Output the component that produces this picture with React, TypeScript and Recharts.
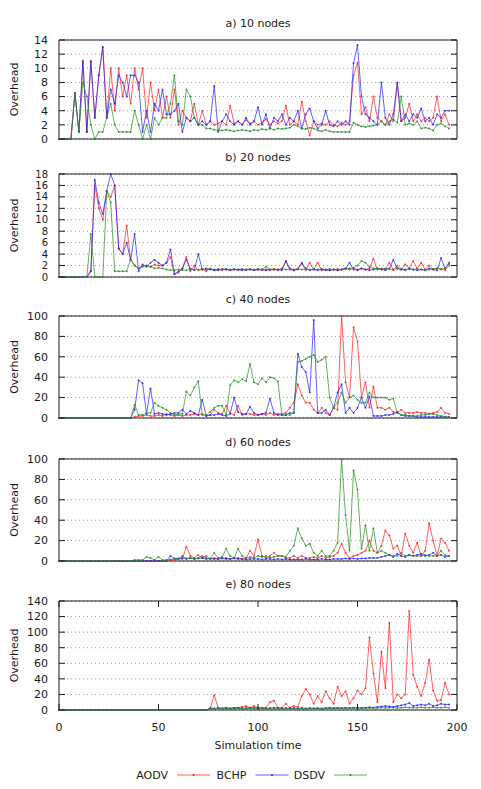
import React from 'react';
import { LineChart, Line, XAxis, YAxis, CartesianGrid, ReferenceArea } from 'recharts';

// Simulation time samples (every 2 s)
const TIME: number[] = Array.from({ length: 99 }, (_, i) => i * 2);
const X_TICKS = [0, 50, 100, 150, 200];

const TICKS_A = [0, 2, 4, 6, 8, 10, 12, 14];
const TICKS_B = [0, 2, 4, 6, 8, 10, 12, 14, 16, 18];
const TICKS_CD = [0, 20, 40, 60, 80, 100];
const TICKS_E = [0, 20, 40, 60, 80, 100, 120, 140];

// a) 10 nodes
const A_AODV = [
  0, 0, 0, 0, 6.5, 1, 11, 1, 11, 3,
  9, 13, 3, 10, 4, 10, 6, 9, 5, 10,
  7, 10, 3, 8, 4, 7, 3, 6, 3, 7,
  2, 4, 3, 2.5, 5, 2, 4, 2, 2.5, 2,
  2.2, 2.5, 2, 4.7, 2.2, 2.5, 2, 2.7, 2.2, 2.5,
  2, 2.3, 2.8, 2, 2.5, 2.2, 2.5, 4.7, 2, 2.5,
  2, 5.3, 2.5, 0.5, 2.5, 2, 2.2, 2, 2.5, 2,
  1.8, 2.3, 2, 2.5, 9, 10.8, 3.5, 4.5, 2.5, 6,
  3, 2.5, 2, 3.5, 2.5, 7.8, 2.5, 3, 5, 2.5,
  3.5, 2.5, 3, 2.5, 3, 6, 2.5, 3.5, 2,
];
const A_BCHP = [
  0, 0, 0, 0, 6.5, 1, 11, 1, 11, 3,
  9, 13, 3, 7, 5, 9, 8, 6, 9, 9,
  8, 1, 4, 1, 5, 4, 7, 3.5, 3.5, 4,
  5, 1, 3, 2.5, 3, 2, 2.5, 2, 2.5, 7.5,
  1, 2.5, 3.5, 2.5, 2, 2.5, 2, 3, 2, 2.5,
  4.5, 2, 3.5, 1.5, 3, 2.5, 3.5, 2, 3, 2.5,
  4, 1.5, 3.5, 4.3, 2.5, 1.5, 2, 4, 2, 1.8,
  2.5, 2, 2.5, 2, 10.7, 13.3, 6, 3.5, 3, 2.5,
  2, 8, 3, 2, 3.5, 8, 2.5, 3.5, 2.5, 3.5,
  3, 4.3, 2.5, 3, 2, 3.5, 3, 4, 4,
];
const A_DSDV = [
  0, 0, 0, 0, 6.5, 1, 8, 6, 2, 0,
  1, 1, 3, 5, 2, 1, 1, 1, 1, 4,
  2, 0, 2, 0, 3, 2, 3, 3, 5, 9,
  2.5, 2, 7, 6, 3, 2, 2, 1.5, 1.5, 1.3,
  1.2, 1.2, 1.3, 1.2, 1.1, 1.2, 1.3, 1.2, 1.1, 1.3,
  1.2, 1.4, 1.3, 1.5, 1.3, 1.5, 1.4, 1.5, 1.6, 2,
  1.8, 1.5, 1.4, 1.6, 1.5, 1.2, 1.1, 1.3, 1.1, 1,
  1, 1, 1, 1, 2.3, 2, 1.8, 1.7, 1.8, 1.9,
  2, 2.5, 2, 2.5, 2.8, 2.3, 6, 2, 2.2, 2,
  2.5, 1.5, 1.6, 1.5, 1.2, 2, 2.2, 1.8, 1.5,
];

// b) 20 nodes
const B_AODV = [
  0, 0, 0, 0, 0, 0, 0, 0, 1, 16,
  12, 10, 15, 14, 16, 5, 4, 9, 3, 2,
  1.5, 2, 2, 1.8, 2.2, 2, 2, 2.5, 3.5, 0.5,
  1, 1.5, 3.5, 1, 2, 1.2, 1.3, 1, 1.5, 1.2,
  1.3, 1.2, 1.3, 1.2, 1.3, 1.2, 1.3, 1.2, 1.3, 1.2,
  1.3, 1.2, 1.3, 1.2, 1.3, 1.2, 1.5, 2.7, 1.3, 1.2,
  1.5, 2.3, 1.2, 2.5, 1.3, 2.5, 1.2, 1.3, 1.2, 1.3,
  1.2, 1.3, 1.5, 1.3, 1.5, 1.3, 1.5, 1.3, 1.5, 3.2,
  1.3, 1.5, 1.3, 2.5, 1.2, 2, 1.3, 2.2, 1.5, 2.8,
  1.5, 2.5, 1.3, 2, 1.3, 1.5, 1.3, 1.2, 2,
];
const B_BCHP = [
  0, 0, 0, 0, 0, 0, 0, 0, 1, 17,
  13, 11, 15, 18, 16, 5, 4, 6, 3, 7.5,
  1, 2.2, 1.8, 2.5, 3, 2.5, 2, 2.5, 4.8, 0.5,
  0.8, 1.5, 3, 1.5, 1.2, 4, 1.3, 1.5, 1.3, 1.2,
  1.2, 1.4, 1.3, 1.2, 1.3, 1.3, 1.2, 1.3, 1.3, 1.2,
  1.3, 1.3, 1.2, 1.3, 1.3, 1.3, 1.2, 2.8, 1.5, 1.2,
  1.3, 2.5, 1.5, 1.2, 1.3, 1.2, 1.3, 1.2, 1.2, 1.3,
  1.2, 1.3, 1.5, 2.5, 1.3, 1.2, 1.5, 1.3, 1.2, 1.3,
  1.5, 1.3, 1.2, 1.5, 3, 1.5, 1.3, 1.2, 1.5, 1.3,
  1.2, 1.3, 1.2, 1.5, 1.3, 1.2, 3.3, 1.5, 2.5,
];
const B_DSDV = [
  0, 0, 0, 0, 0, 0, 0, 0, 7.5, 0,
  0, 0, 15, 13, 1, 1, 1, 1, 3, 2,
  1.5, 1.8, 2, 1.8, 1.5, 1.6, 1.5, 1.3, 1.2, 1.2,
  1.3, 1.2, 1.2, 1.3, 1.3, 1.3, 1.4, 1.3, 1.4, 1.3,
  1.4, 1.3, 1.4, 1.3, 1.4, 1.3, 1.4, 1.3, 1.4, 1.3,
  1.4, 1.3, 1.8, 1.3, 1.4, 1.3, 1.4, 1.3, 1.4, 1.3,
  1.4, 1.3, 1.4, 1.3, 1.4, 1.3, 1.4, 1.3, 1.4, 1.3,
  1.4, 1.3, 1.4, 1.5, 1.6, 2, 2.8, 2.5, 1.8, 1.5,
  1.5, 1.4, 1.5, 1.4, 1.3, 1.5, 1.4, 1.3, 1.4, 1.3,
  1.4, 1.3, 1.2, 1.3, 1.4, 1.5, 1.4, 1.5, 2.3,
];

// c) 40 nodes
const C_AODV = [
  0, 0, 0, 0, 0, 0, 0, 0, 0, 0,
  0, 0, 0, 0, 0, 0, 0, 0, 0, 1,
  2, 2, 3, 2, 2, 3, 2, 4, 3, 2,
  3, 2, 3, 3, 4, 3, 4, 2, 3, 8,
  5, 4, 12, 5, 3, 12, 3, 4, 4, 3,
  3, 4, 3, 5, 3, 4, 4, 5, 10, 15,
  33, 22, 15, 15, 8, 5, 10, 5, 3, 10,
  8, 100, 35, 20, 89, 75, 20, 35, 10, 31,
  10, 10, 8, 10, 6, 5, 8, 5, 5, 5,
  6, 5, 5, 4, 5, 6, 10, 5, 4,
];
const C_BCHP = [
  0, 0, 0, 0, 0, 0, 0, 0, 0, 0,
  0, 0, 0, 0, 0, 0, 0, 0, 0, 8,
  37, 34, 4, 29, 4, 5, 4, 3, 4, 5,
  5, 8, 4, 7, 5, 3, 18, 2, 3, 3,
  4, 3, 2, 4, 20, 6, 4, 4, 11, 5,
  3, 4, 5, 19, 5, 3, 3, 3, 5, 5,
  63, 50, 45, 25, 96, 5, 5, 8, 3, 10,
  25, 33, 5, 10, 5, 10, 20, 10, 21, 2,
  2, 2, 3, 3, 4, 6, 3, 2, 2, 2,
  1, 1, 1, 1, 1, 1, 1, 1, 1,
];
const C_DSDV = [
  0, 0, 0, 0, 0, 0, 0, 0, 0, 0,
  0, 0, 0, 0, 0, 0, 0, 0, 0, 13,
  3, 3, 5, 5, 15, 12, 10, 8, 5, 3,
  4, 4, 26, 22, 30, 36, 3, 3, 6, 10,
  12, 12, 3, 32, 37, 35, 38, 36, 53, 35,
  33, 39, 35, 40, 39, 36, 3, 3, 3, 5,
  55, 56, 58, 60, 62, 55, 57, 60, 20, 10,
  15, 25, 15, 20, 22, 18, 15, 15, 25, 20,
  20, 20, 20, 18, 19, 5, 3, 3, 2, 2,
  2, 3, 3, 4, 4, 3, 2, 1, 1,
];

// d) 60 nodes
const D_AODV = [
  0, 0, 0, 0, 0, 0, 0, 0, 0, 0,
  0, 0, 0, 0, 0, 0, 0, 0, 0, 0,
  0, 0, 0, 0, 0, 0, 0, 0, 1, 1,
  2, 2, 14, 5, 3, 6, 3, 5, 2, 3,
  2, 3, 3, 2, 3, 3, 2, 3, 10, 5,
  21, 5, 3, 5, 8, 5, 5, 3, 3, 5,
  3, 5, 3, 3, 4, 3, 5, 3, 4, 5,
  8, 17, 8, 3, 5, 6, 8, 10, 20, 10,
  8, 15, 30, 25, 12, 15, 5, 27, 15, 8,
  18, 5, 10, 37, 20, 5, 22, 18, 10,
];
const D_BCHP = [
  0, 0, 0, 0, 0, 0, 0, 0, 0, 0,
  0, 0, 0, 0, 0, 0, 0, 0, 0, 0,
  0, 0, 0, 0, 0, 0, 0, 0, 5, 2.5,
  2.5, 3, 2.5, 3, 2, 2.5, 3, 2, 2.5, 2,
  2, 2.5, 2, 2, 2.5, 2, 2, 1.5, 2, 2,
  2, 1.5, 2, 2, 1.5, 2, 1.5, 2, 1.5, 1.5,
  1.5, 1.5, 2, 1.5, 1.5, 1.5, 2, 1.5, 1.5, 2,
  2, 2, 2.5, 2, 2.5, 2, 2.5, 2.5, 3, 3,
  3, 4, 5, 6, 4, 7, 5, 4, 6, 5,
  6, 7, 5, 6, 8, 5, 6, 4, 5,
];
const D_DSDV = [
  0, 0, 0, 0, 0, 0, 0, 0, 0, 0,
  0, 0, 0, 0, 0, 0, 0, 0, 0, 1,
  1, 1, 4, 3, 1, 4, 1, 1, 1.5, 2,
  2, 5, 2, 3, 2, 3, 5, 3, 2, 8,
  3, 4, 12, 5, 3, 12, 5, 3, 4, 3,
  5, 4, 5, 3, 4, 5, 5, 4, 10, 15,
  32, 22, 15, 17, 8, 5, 10, 5, 5, 10,
  18, 100, 45, 10, 89, 70, 12, 35, 10, 32,
  8, 10, 8, 6, 5, 5, 8, 5, 6, 5,
  5, 5, 6, 5, 5, 5, 10, 6, 5,
];

// e) 80 nodes
const E_AODV = [
  0, 0, 0, 0, 0, 0, 0, 0, 0, 0,
  0, 0, 0, 0, 0, 0, 0, 0, 0, 0,
  0, 0, 0, 0, 0, 0, 0, 0, 0, 0,
  0, 0, 0, 0, 0, 0, 0, 0, 2, 19,
  3, 2, 3, 2, 3, 3, 4, 5, 3, 5,
  3, 2, 3, 10, 12, 3, 3, 8, 3, 5,
  4, 18, 27, 20, 8, 18, 10, 24, 15, 8,
  30, 18, 24, 8, 15, 25, 20, 28, 93, 47,
  10, 75, 28, 112, 10, 20, 15, 20, 127, 45,
  30, 18, 35, 65, 25, 12, 13, 35, 20,
];
const E_BCHP = [
  0, 0, 0, 0, 0, 0, 0, 0, 0, 0,
  0, 0, 0, 0, 0, 0, 0, 0, 0, 0,
  0, 0, 0, 0, 0, 0, 0, 0, 0, 0,
  0, 0, 0, 0, 0, 0, 0, 0, 2.5, 2,
  2.5, 2, 2.5, 2, 2.5, 2.5, 2, 2.5, 3, 2.5,
  3, 2.5, 2, 2.5, 3, 2.5, 2, 2.5, 2, 2.5,
  2, 2.5, 2, 2.5, 2, 2.5, 2, 2.5, 3, 2.5,
  3, 2.5, 3, 2.5, 3, 3, 2.5, 3, 3.5, 3,
  4, 4.5, 5, 4.5, 4, 5, 6, 7, 9, 5,
  6, 7, 6, 8, 5, 6, 8, 7, 7,
];
const E_DSDV = [
  0, 0, 0, 0, 0, 0, 0, 0, 0, 0,
  0, 0, 0, 0, 0, 0, 0, 0, 0, 0,
  0, 0, 0, 0, 0, 0, 0, 0, 0, 0,
  0, 0, 0, 0, 0, 0, 0, 0, 1.5, 1.5,
  1.5, 1.8, 1.5, 1.8, 1.5, 2, 1.8, 1.5, 2, 1.8,
  1.5, 1.8, 2, 1.5, 1.8, 1.5, 2, 1.8, 1.5, 1.8,
  2, 1.8, 1.5, 1.8, 2, 1.8, 1.5, 1.8, 2, 1.8,
  2, 2.2, 2, 2.5, 2.2, 2, 2.5, 2.2, 2.5, 2.5,
  2.5, 3, 2.5, 3, 3, 2.5, 3, 3.5, 3, 3,
  3, 3.5, 3, 3, 3.5, 3, 3, 3.5, 3,
];

const SERIES = [
  { key: 'aodv', name: 'AODV', color: '#ff2020' },
  { key: 'bchp', name: 'BCHP', color: '#2020ff' },
  { key: 'dsdv', name: 'DSDV', color: '#209020' },
];

const W = 481;
const PL = 59;
const PR = 457;
const MT = 8;
const INK = '#1a1a1a';
const FONT = '"DejaVu Sans", Verdana, sans-serif';

type PanelCfg = {
  title: string;
  top: number;
  height: number;
  yMax: number;
  yTicks: number[];
  tickFont: number;
  values: number[][];
  showX: boolean;
};

const PANELS: PanelCfg[] = [
  { title: 'a) 10 nodes', top: 40, height: 99, yMax: 14, yTicks: TICKS_A, tickFont: 11, values: [A_AODV, A_BCHP, A_DSDV], showX: false },
  { title: 'b) 20 nodes', top: 174, height: 103, yMax: 18, yTicks: TICKS_B, tickFont: 10, values: [B_AODV, B_BCHP, B_DSDV], showX: false },
  { title: 'c) 40 nodes', top: 316, height: 102, yMax: 100, yTicks: TICKS_CD, tickFont: 11, values: [C_AODV, C_BCHP, C_DSDV], showX: false },
  { title: 'd) 60 nodes', top: 459, height: 102, yMax: 100, yTicks: TICKS_CD, tickFont: 11, values: [D_AODV, D_BCHP, D_DSDV], showX: false },
  { title: 'e) 80 nodes', top: 601, height: 109, yMax: 140, yTicks: TICKS_E, tickFont: 11, values: [E_AODV, E_BCHP, E_DSDV], showX: true },
];

function OverheadLabel({ cy }: { cy: number }) {
  return (
    <text x={14} y={cy} transform={`rotate(-90, 14, ${cy})`} textAnchor="middle" dy="0.35em" fill={INK} fontSize={11}>
      Overhead
    </text>
  );
}

function TimeLabel({ cy }: { cy: number }) {
  return (
    <text x={(PL + PR) / 2} y={cy} textAnchor="middle" dy="0.35em" fill={INK} fontSize={11}>
      Simulation time
    </text>
  );
}

function Panel({ cfg }: { cfg: PanelCfg }) {
  const { title, top, height, yMax, yTicks, tickFont, values, showX } = cfg;
  const data = TIME.map((t, i) => ({ t, aodv: values[0][i], bchp: values[1][i], dsdv: values[2][i] }));
  const xH = showX ? 50 : 0;
  const MB = showX ? 0 : 6;
  const chartH = MT + height + xH + MB;
  const bottom = MT + height;

  const yTick = (p: any) => (
    <g>
      <line x1={PL} x2={PL + 6} y1={p.y} y2={p.y} stroke={INK} strokeWidth={1} />
      <line x1={PR - 6} x2={PR} y1={p.y} y2={p.y} stroke={INK} strokeWidth={1} />
      <text x={PL - 11} y={p.y} dy="0.35em" textAnchor="end" fill={INK} fontSize={tickFont}>
        {p.payload.value}
      </text>
    </g>
  );
  const xTick = (p: any) => (
    <g>
      <line x1={p.x} x2={p.x} y1={bottom} y2={bottom - 6} stroke={INK} strokeWidth={1} />
      <line x1={p.x} x2={p.x} y1={MT} y2={MT + 6} stroke={INK} strokeWidth={1} />
      <text x={p.x} y={bottom + 17} dy="0.35em" textAnchor="middle" fill={INK} fontSize={11}>
        {p.payload.value}
      </text>
    </g>
  );

  return (
    <>
      <div
        style={{
          position: 'absolute',
          left: PL,
          width: PR - PL,
          top: top - 16 - 7,
          height: 14,
          lineHeight: '14px',
          textAlign: 'center',
          fontSize: 11,
          color: INK,
        }}
      >
        {title}
      </div>
      <div style={{ position: 'absolute', left: 0, top: top - MT, width: W, height: chartH }}>
        <LineChart width={W} height={chartH} data={data} margin={{ top: MT, right: W - PR, bottom: MB, left: 0 }}>
          <CartesianGrid vertical={false} stroke="#9a9a9a" strokeDasharray="1 3" />
          <XAxis
            dataKey="t"
            type="number"
            domain={[0, 200]}
            ticks={X_TICKS}
            hide={!showX}
            height={xH}
            axisLine={false}
            tickLine={false}
            tick={xTick}
            interval={0}
            label={showX ? <TimeLabel cy={bottom + 35} /> : undefined}
          />
          <YAxis
            type="number"
            domain={[0, yMax]}
            ticks={yTicks}
            width={PL}
            axisLine={false}
            tickLine={false}
            tick={yTick}
            interval={0}
            label={<OverheadLabel cy={MT + height / 2} />}
          />
          <ReferenceArea x1={0} x2={200} y1={0} y2={yMax} fill="none" stroke={INK} strokeWidth={1} ifOverflow="visible" />
          {SERIES.map((s) => (
            <Line
              key={s.key}
              type="linear"
              dataKey={s.key}
              name={s.name}
              stroke={s.color}
              strokeOpacity={0.7}
              strokeWidth={1}
              dot={{ r: 1, fill: s.color, stroke: 'none', fillOpacity: 0.8 }}
              activeDot={false}
              isAnimationActive={false}
            />
          ))}
        </LineChart>
      </div>
    </>
  );
}

function KeyBox() {
  return (
    <svg width={W} height={30} style={{ position: 'absolute', left: 0, top: 761 }}>
      {SERIES.map((s, i) => {
        const textEnd = 168 + i * 78.5;
        const x1 = textEnd + 9;
        const x2 = x1 + 33;
        return (
          <g key={s.key}>
            <text x={textEnd} y={14} dy="0.35em" textAnchor="end" fill={INK} fontSize={11}>
              {s.name}
            </text>
            <line x1={x1} x2={x2} y1={14} y2={14} stroke={s.color} strokeOpacity={0.7} strokeWidth={1} />
            <circle cx={(x1 + x2) / 2} cy={14} r={1} fill={s.color} />
          </g>
        );
      })}
    </svg>
  );
}

export default function App() {
  return (
    <div
      style={{
        position: 'absolute',
        left: 0,
        top: 0,
        width: W,
        height: 789,
        background: '#fff',
        fontFamily: FONT,
        fontSize: 11,
        overflow: 'hidden',
      }}
    >
      {PANELS.map((p) => (
        <Panel key={p.title} cfg={p} />
      ))}
      <KeyBox />
    </div>
  );
}
